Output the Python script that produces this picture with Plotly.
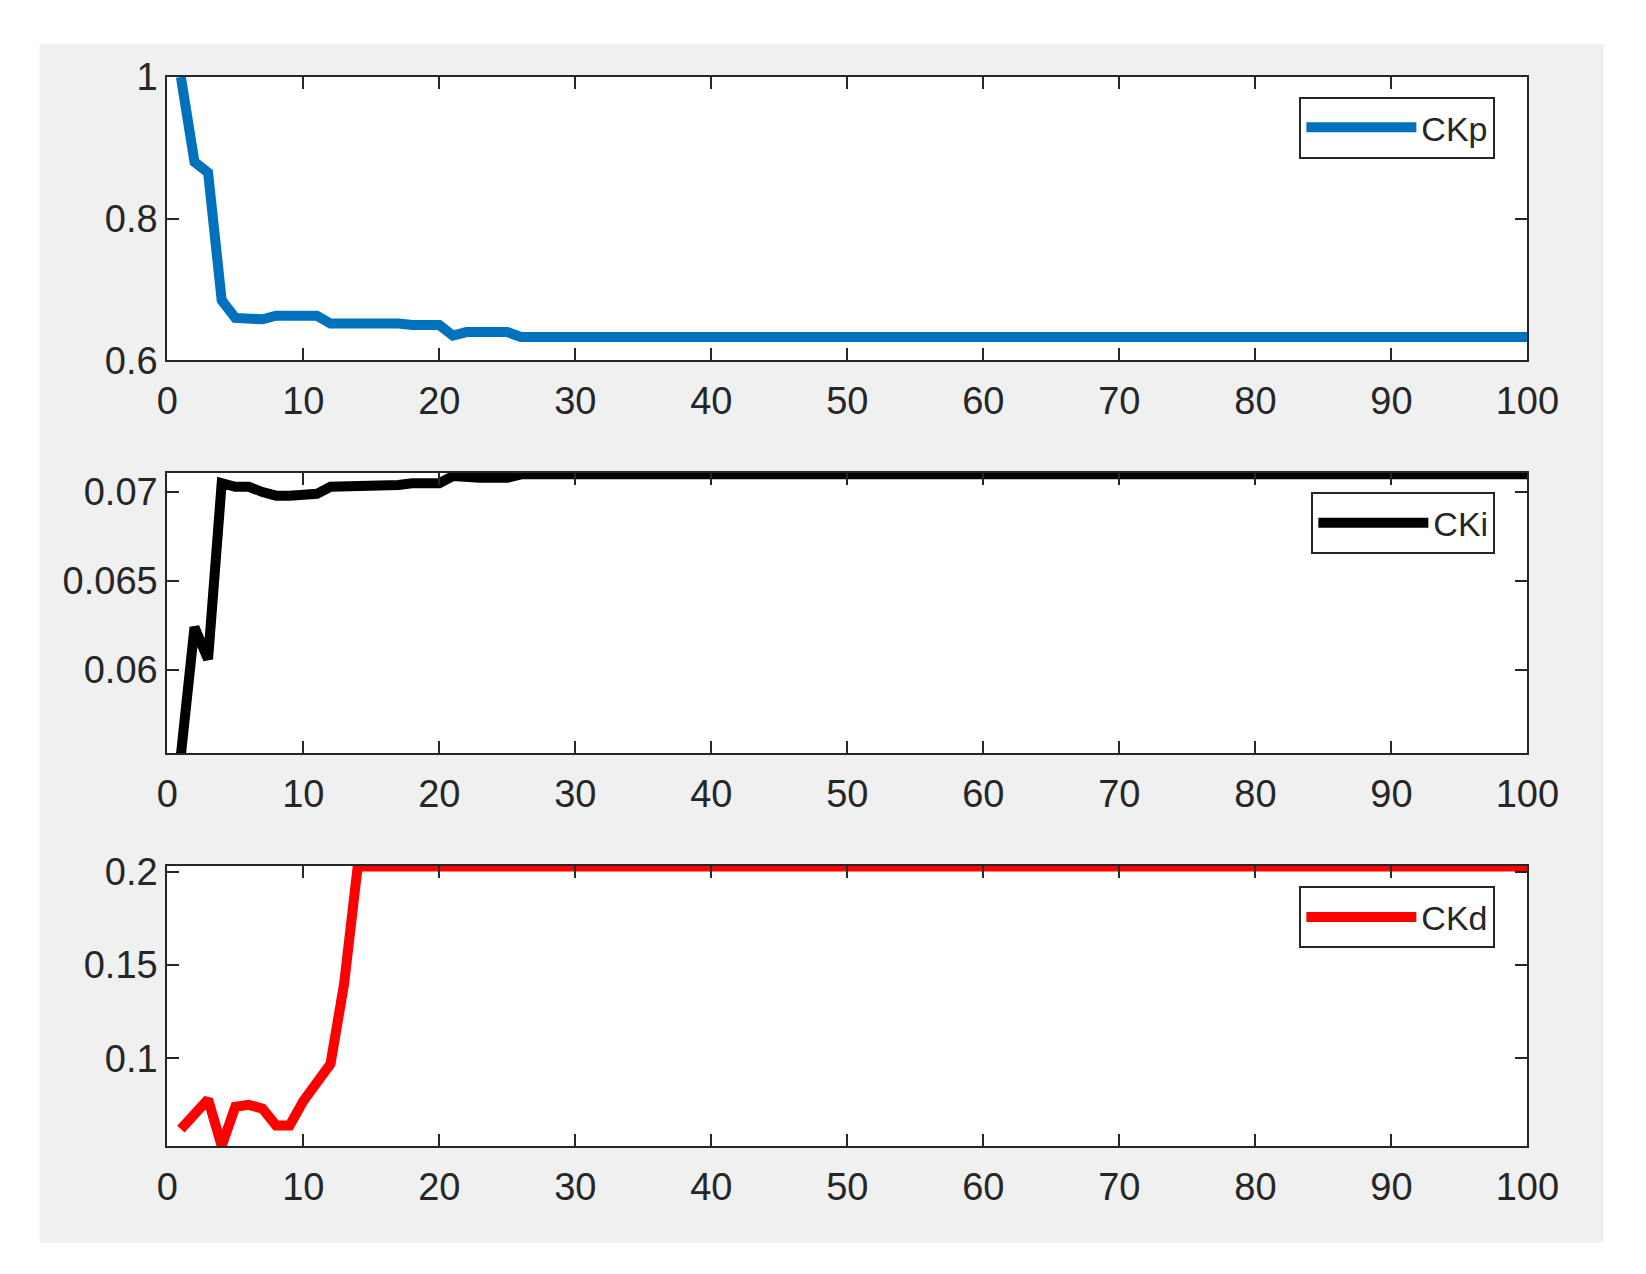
import plotly.graph_objects as go

x = list(range(1, 101))

ckp_head = [1.0, 0.88, 0.865, 0.685, 0.66, 0.66, 0.658, 0.663, 0.663, 0.665,
            0.663, 0.652, 0.652, 0.655, 0.655, 0.654, 0.652, 0.65, 0.65, 0.65,
            0.635, 0.64, 0.64, 0.64, 0.64, 0.633]
ckp = ckp_head + [0.633] * (100 - len(ckp_head))

cki_head = [0.0552, 0.0624, 0.0606, 0.0705, 0.0703, 0.0703, 0.0700, 0.0698, 0.0698, 0.0698,
            0.0699, 0.0703, 0.0703, 0.0703, 0.0704, 0.0704, 0.0704, 0.0705, 0.0705, 0.0705,
            0.0709, 0.0708, 0.0708, 0.0708, 0.0708, 0.0710]
cki = cki_head + [0.0710] * (100 - len(cki_head))

ckd_head = [0.062, 0.070, 0.078, 0.053, 0.074, 0.075, 0.073, 0.064, 0.064, 0.077,
            0.087, 0.097, 0.140, 0.203]
ckd = ckd_head + [0.203] * (100 - len(ckd_head))

fig = go.Figure()
fig.add_trace(go.Scatter(x=x, y=ckp, mode="lines", name="CKp", line=dict(color="#0072BD", width=10),
                         xaxis="x", yaxis="y", legend="legend"))
fig.add_trace(go.Scatter(x=x, y=cki, mode="lines", name="CKi", line=dict(color="black", width=10),
                         xaxis="x2", yaxis="y2", legend="legend2"))
fig.add_trace(go.Scatter(x=x, y=ckd, mode="lines", name="CKd", line=dict(color="red", width=10),
                         xaxis="x3", yaxis="y3", legend="legend3"))

tickfont = dict(family="Liberation Sans, Arial", size=38, color="#262626")
axis_common = dict(showgrid=False, zeroline=False, showline=True, linecolor="#262626", linewidth=2,
                   mirror="ticks", ticks="inside", ticklen=12, tickcolor="#262626", tickwidth=2,
                   tickfont=tickfont)
xd = [0.0925, 0.941]
panels = [(0.731, 0.961), (0.412, 0.640), (0.093, 0.321)]
yinfo = [
    dict(range=[0.6, 1.0], tickvals=[0.6, 0.8, 1.0], ticktext=["0.6", "0.8", "1"]),
    dict(range=[0.0553, 0.0711], tickvals=[0.06, 0.065, 0.07], ticktext=["0.06", "0.065", "0.07"]),
    dict(range=[0.0527, 0.2035], tickvals=[0.1, 0.15, 0.2], ticktext=["0.1", "0.15", "0.2"]),
]
layout = {}
shapes = [dict(type="rect", xref="paper", yref="paper", x0=0.0128, x1=0.9885, y0=0.015, y1=0.988,
               fillcolor="#F0F0F0", line=dict(width=0), layer="below")]
for i, (dom, yi) in enumerate(zip(panels, yinfo)):
    s = "" if i == 0 else str(i + 1)
    layout["xaxis" + s] = dict(axis_common, domain=xd, anchor="y" + s, range=[0, 100],
                               tickvals=list(range(0, 101, 10)), ticklabelstandoff=6)
    layout["yaxis" + s] = dict(axis_common, domain=list(dom), anchor="x" + s, **yi)
    shapes.append(dict(type="rect", xref="paper", yref="paper", x0=xd[0], x1=xd[1], y0=dom[0], y1=dom[1],
                       fillcolor="white", line=dict(width=0), layer="below"))

legend_common = dict(bgcolor="white", bordercolor="#262626", borderwidth=2, itemwidth=110,
                     font=dict(family="Liberation Sans, Arial", size=34, color="#262626"),
                     xanchor="right", yanchor="top", x=0.921)
layout["legend"] = dict(legend_common, y=0.945)
layout["legend2"] = dict(legend_common, y=0.624)
layout["legend3"] = dict(legend_common, y=0.304)

fig.update_layout(**layout)
fig.update_layout(
    width=1646, height=1274, margin=dict(l=0, r=0, t=0, b=0),
    paper_bgcolor="white", plot_bgcolor="white", showlegend=True,
    shapes=shapes,
)

fig.write_html("out.html")
